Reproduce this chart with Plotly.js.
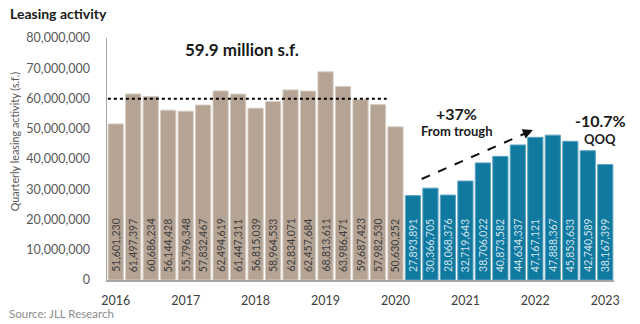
<!DOCTYPE html>
<html><head><meta charset="utf-8">
<script src="https://cdn.plot.ly/plotly-3.0.1.min.js"></script>
<style>html,body{margin:0;padding:0;background:#fff}#c{width:640px;height:324px}</style>
</head><body><div id="c"></div>
<script>
const tanValues = [51601230,61497397,60686234,56144428,55796348,57832467,62494619,61447311,56815039,58964533,62834071,62457684,68813611,63986471,59687423,57982530,50630252];
const blueValues = [27893891,30366705,28068376,32719643,38706022,40873582,44634337,47167121,47888367,45853633,42740589,38167399];
const yearLabels = ['2016','2017','2018','2019','2020','2021','2022','2023'];
const averageValue = 59.9e6;

const fmt = v => v.toLocaleString('en-US');
const tanX = tanValues.map((v,i)=>i);
const blueX = blueValues.map((v,i)=>i+tanValues.length);
const yearTicks = yearLabels.map((y,i)=>i*4);
const F = 'Lato, "Noto Sans", sans-serif';
const DARK = '#1a1a1a';

const traces = [
 {type:'bar', x:tanX, y:tanValues, marker:{color:'#b5a394', line:{color:'#d6cbc1', width:1}}, hoverinfo:'none'},
 {type:'bar', x:blueX, y:blueValues, marker:{color:'#0f79a0', line:{color:'#5fa3bf', width:1}}, hoverinfo:'none'}
];

const barLabels = [];
tanValues.forEach((v,i)=>barLabels.push({xref:'x', yref:'y', x:tanX[i], y:0, yanchor:'bottom', yshift:6, textangle:-90,
  text:fmt(v), showarrow:false, font:{size:10.5, color:'#3d3d3d'}}));
blueValues.forEach((v,i)=>barLabels.push({xref:'x', yref:'y', x:blueX[i], y:0, yanchor:'bottom', yshift:6, textangle:-90,
  text:fmt(v), showarrow:false, font:{size:10.5, color:'#cfe3ec'}}));

const layout = {
 width:640, height:324, margin:{l:107, r:26, t:38, b:44},
 paper_bgcolor:'#fff', plot_bgcolor:'#fff', showlegend:false, bargap:0.13,
 font:{family:F, color:'#595959'},
 xaxis:{range:[-0.5,28.5], tickvals:yearTicks, ticktext:yearLabels, showgrid:false, zeroline:false,
   showline:true, linecolor:'#a6a6a6', linewidth:1.5, ticks:'', tickfont:{size:12.5, color:'#404040'}, ticklabelstandoff:8},
 yaxis:{range:[0,80e6], dtick:10e6, tickformat:',d', showgrid:false, zeroline:false, showline:true, linecolor:'#a6a6a6', linewidth:1.5,
   ticks:'', tickfont:{size:12.5, color:'#595959'}, ticklabelstandoff:13},
 shapes:[
  {type:'line', xref:'x', yref:'y', x0:-0.45, x1:15.5, y0:averageValue, y1:averageValue, line:{color:'#000', width:2, dash:'dot'}},
  {type:'line', xref:'x', yref:'y', x0:17.5, y0:33.4e6, x1:23.4, y1:48.4e6, line:{color:'#111', width:2, dash:'dash'}}
 ],
 annotations: barLabels.concat([
  {xref:'paper', yref:'paper', x:-0.195, y:1.10, xanchor:'left', yanchor:'middle', text:'<b>Leasing activity</b>', showarrow:false, font:{size:14, color:DARK}},
  {xref:'paper', yref:'paper', x:-0.183, y:0.574, xanchor:'center', yanchor:'middle', textangle:-90, text:'Quarterly leasing activity (s.f.)', showarrow:false, font:{size:10.8, color:'#595959'}},
  {xref:'x', yref:'y', x:7.2, y:76.3e6, text:'<b>59.9 million s.f.</b>', showarrow:false, font:{size:17, color:DARK}},
  {xref:'x', yref:'y', x:19.5, y:55.2e6, text:'<b>+37%</b>', showarrow:false, font:{size:16, color:DARK}},
  {xref:'x', yref:'y', x:19.5, y:49.3e6, text:'<b>From trough</b>', showarrow:false, font:{size:13, color:DARK}},
  {xref:'x', yref:'y', x:27.7, y:52.6e6, text:'<b>-10.7%</b>', showarrow:false, font:{size:16, color:DARK}},
  {xref:'x', yref:'y', x:27.7, y:46.6e6, text:'<b>QOQ</b>', showarrow:false, font:{size:13, color:DARK}},
  {xref:'x', yref:'y', x:23.86, y:49.6e6, ax:23.2, ay:48.0e6, axref:'x', ayref:'y', text:'', showarrow:true, arrowhead:2, arrowsize:1, arrowwidth:2, arrowcolor:'#111'},
  {xref:'paper', yref:'paper', x:-0.197, y:-0.14, xanchor:'left', yanchor:'middle', text:'Source: JLL Research', showarrow:false, font:{size:11.5, color:'#8c8c8c'}}
 ])
};
Plotly.newPlot('c', traces, layout, {staticPlot:true, displayModeBar:false});
</script></body></html>
